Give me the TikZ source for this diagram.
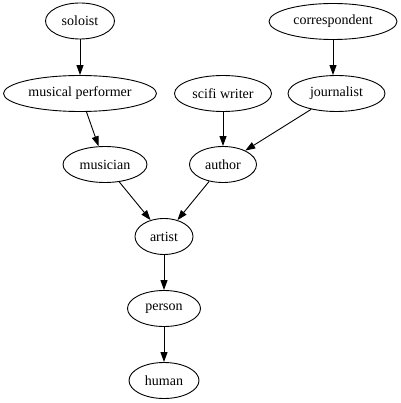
\documentclass[tikz,border=0pt]{standalone}
\usepackage{fontspec}
\setmainfont{Liberation Serif}
\usetikzlibrary{shapes.geometric,arrows.meta}
\begin{document}
\begin{tikzpicture}[x=1pt,y=-1pt,
  nd/.style={draw,ellipse,line width=0.9pt,inner sep=0pt,minimum height=36pt,font=\fontsize{14}{16}\selectfont},
  edge/.style={draw,line width=0.9pt,-{Triangle[length=10pt,width=7pt]}}]
\useasboundingbox[fill=white] (0,0) rectangle (400,403);
\node[nd,minimum width=69pt] (soloist) at (80,21) {soloist};
\node[nd,minimum width=128pt] (corr) at (333,21.5) {correspondent};
\node[nd,minimum width=153pt] (mp) at (80,93.5) {musical performer};
\node[nd,minimum width=97pt] (scifi) at (223,93.5) {scifi writer};
\node[nd,minimum width=97pt] (journ) at (336.5,93.5) {journalist};
\node[nd,minimum width=84pt] (musician) at (105,164.5) {musician};
\node[nd,minimum width=67pt] (author) at (223,164.5) {author};
\node[nd,minimum width=58pt] (artist) at (164,236.5) {artist};
\node[nd,minimum width=73pt] (person) at (164,308.5) {person};
\node[nd,minimum width=70pt] (human) at (164,380.5) {human};
\draw[edge] (soloist) -- (mp);
\draw[edge] (mp) -- (musician);
\draw[edge] (corr) -- (corr |- journ.north);
\draw[edge] (scifi) -- (author);
\draw[edge] (journ) -- (author);
\draw[edge] (musician) -- (artist);
\draw[edge] (author) -- (artist);
\draw[edge] (artist) -- (person);
\draw[edge] (person) -- (human);
\end{tikzpicture}
\end{document}
